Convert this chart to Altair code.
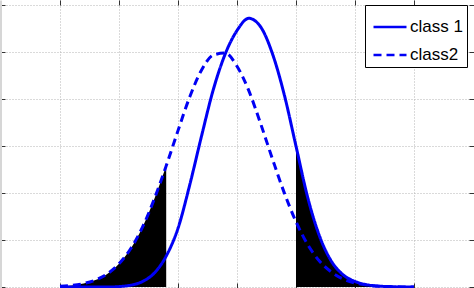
import altair as alt
import pandas as pd

# x positions (grid units) and curve heights
x_vals = [-3.0, -2.8, -2.6, -2.4, -2.2, -2.0, -1.8, -1.6, -1.4, -1.2, -1.0,
          -0.8, -0.6, -0.4, -0.2, 0.0, 0.2, 0.4, 0.6, 0.8, 1.0,
          1.2, 1.4, 1.6, 1.8, 2.0, 2.2, 2.4, 2.6, 2.8, 3.0]
class1_y = [0.000, 0.000, 0.000, 0.000, 0.000, 0.001, 0.004, 0.012, 0.030, 0.066, 0.125,
            0.218, 0.322, 0.421, 0.496, 0.546, 0.572, 0.554, 0.497, 0.410, 0.300,
            0.190, 0.108, 0.055, 0.026, 0.012, 0.005, 0.002, 0.001, 0.000, 0.000]
class2_y = [0.0015, 0.0035, 0.0075, 0.0149, 0.028, 0.0496, 0.082, 0.128, 0.188, 0.258, 0.333,
            0.405, 0.462, 0.494, 0.498, 0.470, 0.418, 0.348, 0.273, 0.201, 0.139,
            0.090, 0.055, 0.032, 0.017, 0.0086, 0.0041, 0.0018, 0.0008, 0.0003, 0.0001]
series_names = ["class 1", "class2"]
shade_left_end = -1.2     # class2 tail shaded up to here
shade_right_start = 1.0   # class1 tail shaded from here
x_ticks = [-3, -2, -1, 0, 1, 2, 3]
y_ticks = [0.0, 0.1, 0.2, 0.3, 0.4, 0.5, 0.6]

rows = []
for xv, a, b in zip(x_vals, class1_y, class2_y):
    rows.append({"x": xv, "y": a, "series": series_names[0]})
    rows.append({"x": xv, "y": b, "series": series_names[1]})
df = pd.DataFrame(rows)

BLUE = "#0000f5"
GRID = "#b4b4b4"
TICK = "#333333"

xscale = alt.Scale(domain=[-4.017, 4.017], nice=False, zero=False)
yscale = alt.Scale(domain=[-0.002, 0.611], nice=False, zero=False)

x_axis_b = alt.Axis(orient="bottom", values=x_ticks, labels=False, title=None, domain=False,
                    grid=True, gridDash=[1, 2], gridColor=GRID, ticks=True, tickSize=5,
                    offset=-5, tickColor=TICK)
y_axis_l = alt.Axis(orient="left", values=y_ticks, labels=False, title=None, domain=False,
                    grid=True, gridDash=[1, 2], gridColor=GRID, ticks=True, tickSize=5,
                    offset=-5, tickColor=TICK)
x_axis_t = alt.Axis(orient="top", values=x_ticks, labels=False, title=None, domain=False,
                    grid=False, ticks=True, tickSize=5, offset=-5, tickColor=TICK)
y_axis_r = alt.Axis(orient="right", values=y_ticks, labels=False, title=None, domain=False,
                    grid=False, ticks=True, tickSize=5, offset=-5, tickColor=TICK)
y_axis_edge = alt.Axis(orient="left", labels=False, title=None, domain=True,
                       domainColor="#d6d6d6", domainWidth=3, grid=False, ticks=False)
x_axis_none = alt.Axis(orient="bottom", labels=False, title=None, domain=False,
                       grid=False, ticks=False)

base = alt.Chart(df)

areas = base.transform_filter(
    f"(datum.series == '{series_names[1]}' && datum.x <= {shade_left_end} + 1e-9) || "
    f"(datum.series == '{series_names[0]}' && datum.x >= {shade_right_start} - 1e-9)"
).mark_area(color="black", opacity=1, interpolate="monotone", strokeWidth=0).encode(
    x=alt.X("x:Q", scale=xscale, axis=x_axis_b),
    y=alt.Y("y:Q", scale=yscale, axis=y_axis_l, stack=None),
    detail="series:N",
)

lines = base.mark_line(strokeWidth=3, interpolate="monotone").encode(
    x=alt.X("x:Q", scale=xscale, axis=None),
    y=alt.Y("y:Q", scale=yscale, axis=None),
    color=alt.Color("series:N", scale=alt.Scale(domain=series_names, range=[BLUE, BLUE]),
                    legend=alt.Legend(title=None)),
    strokeDash=alt.StrokeDash("series:N",
                              scale=alt.Scale(domain=series_names, range=[[1, 0], [8, 5]]),
                              legend=alt.Legend(title=None)),
)

frame = base.mark_line(opacity=0).encode(
    x=alt.X("x:Q", scale=xscale, axis=x_axis_t),
    y=alt.Y("y:Q", scale=yscale, axis=y_axis_r),
    detail="series:N",
)

edge = base.mark_line(opacity=0).encode(
    x=alt.X("x:Q", scale=xscale, axis=x_axis_none),
    y=alt.Y("y:Q", scale=yscale, axis=y_axis_edge),
    detail="series:N",
)

chart = alt.layer(areas, lines, frame, edge).resolve_axis(
    x="independent", y="independent"
).properties(
    width=474, height=288, padding=0, autosize=alt.AutoSizeParams(type="none"),
    background="white",
).configure_view(stroke=None).configure_legend(
    orient="none", legendX=365, legendY=5,
    strokeColor="black", fillColor="white", padding=4, symbolOffset=3,
    labelFont="Liberation Sans", labelFontSize=17, labelColor="black",
    symbolType="stroke", symbolSize=1089, symbolStrokeWidth=2.5,
    labelOffset=2, rowPadding=2, cornerRadius=0,
)

chart.save("out.html", embed_options={"renderer": "svg", "actions": False})
